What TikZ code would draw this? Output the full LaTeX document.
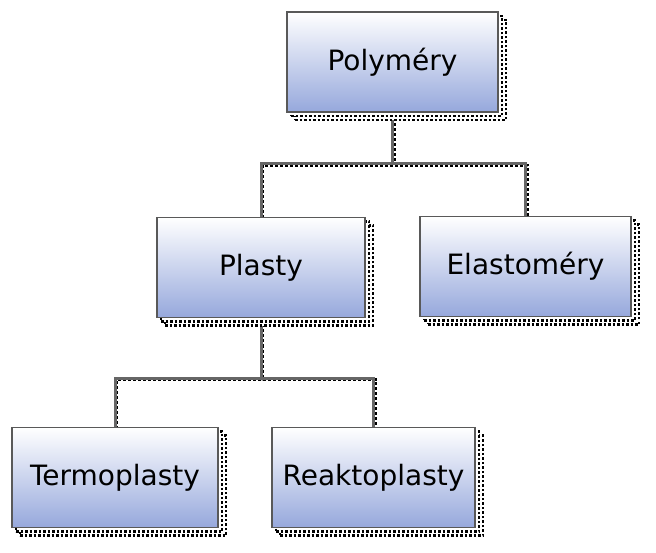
\documentclass[tikz,border=0pt]{standalone}
\usepackage{fontspec}
\setmainfont{DejaVu Sans}
\usetikzlibrary{shadows}
\begin{document}
\begin{tikzpicture}[x=1pt,y=-1pt,
  box/.style={draw=gray!70!black,line width=1.2pt,top color=white,bottom color={rgb,255:red,150;green,168;blue,220},
    minimum height=100pt,font=\fontsize{28}{32}\selectfont,
    double copy shadow={shadow xshift=4pt,shadow yshift=-4pt,draw=black,dotted,line width=2.5pt,fill=none,top color=white,bottom color=white}},
  conn/.style={draw=gray!80!black,line width=3pt,
    preaction={draw=black,dotted,line width=3pt,transform canvas={xshift=1.5pt,yshift=-1.5pt}}}]
\useasboundingbox (0,0) rectangle (656,553);
\coordinate (j1) at (392.5,164);
\coordinate (j2) at (261,378);
\coordinate (pb) at (392.5,112);
\coordinate (plt) at (261,217);
\coordinate (et) at (525.5,216);
\coordinate (plb) at (261,318);
\coordinate (tt) at (115,427);
\coordinate (rt) at (373.5,427);
\draw[conn] (pb) -- (j1) (plt) |- (j1) -| (et);
\draw[conn] (plb) -- (j2) (tt) |- (j2) -| (rt);
\node[box,minimum width=211pt] (p) at (392.5,62) {Polyméry};
\node[box,minimum width=208pt] (pl) at (261,267.5) {Plasty};
\node[box,minimum width=211pt] (e) at (525.5,266.5) {Elastoméry};
\node[box,minimum width=206pt] (t) at (115,477.5) {Termoplasty};
\node[box,minimum width=203pt] (r) at (373.5,477.5) {Reaktoplasty};
\end{tikzpicture}
\end{document}
